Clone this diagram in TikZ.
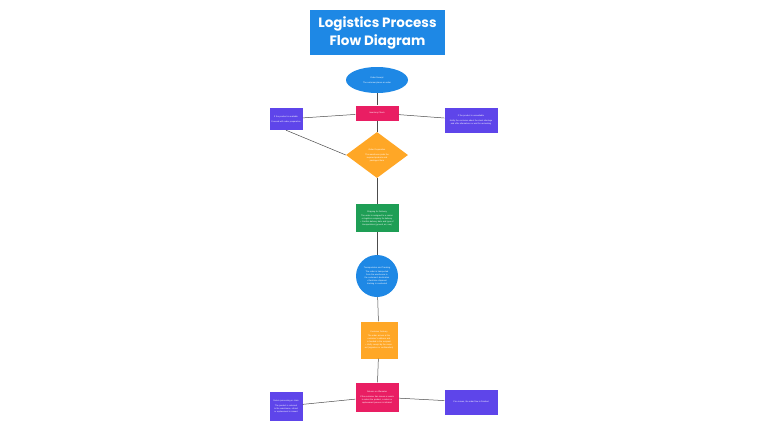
\documentclass[tikz,border=0pt]{standalone}
\usepackage{fontspec}
\setmainfont{Liberation Sans}
\newfontfamily\titlefont{Poppins}
\usetikzlibrary{shapes.geometric}
\definecolor{tblue}{HTML}{1E88E5}
\definecolor{tpink}{HTML}{E91E63}
\definecolor{tpurple}{HTML}{5E45EA}
\definecolor{torange}{HTML}{FFA726}
\definecolor{tgreen}{HTML}{1E9E55}
\begin{document}
\begin{tikzpicture}[x=1pt,y=-1pt,
  box/.style={draw=none,text=white,font=\fontsize{2.1}{3}\selectfont,align=center,inner sep=1pt},
  conn/.style={draw=black!70,line width=0.5pt}]
\useasboundingbox (0,0) rectangle (768,431);
\fill[white] (0,0) rectangle (768,431);
\node[box,fill=tblue,minimum width=135pt,minimum height=45pt,font=\titlefont\bfseries\fontsize{13.5}{18}\selectfont] (title) at (377.5,32.5) {Logistics Process\\Flow Diagram};
\node[box,ellipse,fill=tblue,minimum width=62pt,minimum height=26pt] (order) at (377,80) {Order Receipt\\[2pt]The customer places an order};
\node[box,fill=tpink,minimum width=43pt,minimum height=15pt] (inv) at (377,113) {Inventory Check};
\node[box,fill=tpurple,minimum width=33pt,minimum height=22pt,text width=30pt] (left1) at (286,119) {If the product is available\\[2pt]Proceed with order preparation};
\node[box,fill=tpurple,minimum width=53pt,minimum height=25pt,text width=50pt] (right1) at (471,120) {If the product is unavailable\\[2pt]Notify the customer about the stock shortage and offer alternatives or wait for restocking};
\node[box,diamond,fill=torange,minimum width=62pt,minimum height=46pt,aspect=1.35,inner sep=0pt] (prep) at (377,155) {Order Preparation\\[2pt]The warehouse picks the\\required products and\\packages them};
\node[box,fill=tgreen,minimum width=43pt,minimum height=28pt,text width=40pt] (ship) at (377,218) {Shipping for Delivery\\[1pt]The order is assigned to a carrier or logistics company for delivery\\\textbullet{} Confirm delivery date and type of transportation (ground, air, sea)};
\node[box,circle,fill=tblue,minimum size=42pt,text width=32pt] (track) at (377,276) {Transportation and Tracking\\[1pt]The order is transported from the warehouse to the customer's destination\\\textbullet{} Real-time shipment tracking is conducted};
\node[box,fill=torange,minimum width=37pt,minimum height=37pt,text width=34pt] (deliv) at (379,340) {Customer Delivery\\[1pt]The order arrives at the customer's address and is handed to the recipient\\\textbullet{} Verify receipt by the recipient (signature or confirmation)};
\node[box,fill=tpink,minimum width=43pt,minimum height=29pt,text width=40pt] (post) at (377,397) {Returns or Aftersales\\[2pt]If the customer has issues or wants to return the product, a return or replacement process is initiated};
\node[box,fill=tpurple,minimum width=33pt,minimum height=29pt,text width=30pt] (left2) at (286,406) {Return processing or claim\\[2pt]The product is returned to the warehouse, refund or replacement is issued};
\node[box,fill=tpurple,minimum width=53pt,minimum height=25pt,text width=50pt] (right2) at (471,402) {If no issues, the order flow is finished};
\draw[conn] (order) -- (inv);
\draw[conn] (inv) -- (left1);
\draw[conn] (inv) -- (right1);
\draw[conn] (inv) -- (prep);
\draw[conn] (left1.south) -- (prep.west);
\draw[conn] (prep) -- (ship);
\draw[conn] (ship) -- (track);
\draw[conn] (track) -- (deliv);
\draw[conn] (deliv) -- (post);
\draw[conn] (post) -- (left2);
\draw[conn] (post) -- (right2);
\end{tikzpicture}
\end{document}
